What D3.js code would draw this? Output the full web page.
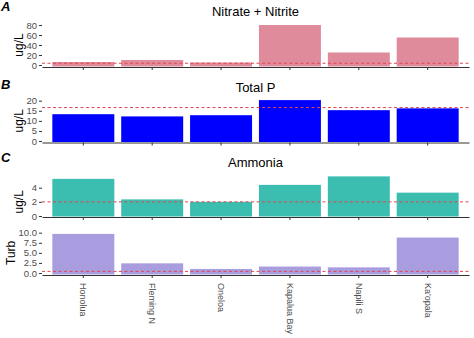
<!DOCTYPE html>
<html>
<head>
<meta charset="utf-8">
<script src="https://cdn.jsdelivr.net/npm/d3@7"></script>
<style>
  body { margin: 0; background: #fff; }
  svg { display: block; font-family: "Liberation Sans", Arial, sans-serif; }
</style>
</head>
<body>
<div id="graphic"></div>
<script>
// sites along the x axis
var sites = ["Honolua", "Fleming N", "Oneloa", "Kapalua Bay", "Napili S", "Ka'opala"];

// values per panel
var nitrate = [6, 10, 5, 80, 25, 55];
var totalP = [13.3, 12.2, 12.8, 20.3, 15.3, 16.2];
var ammonia = [5.25, 2.35, 2.0, 4.4, 5.6, 3.3];
var turb = [9.7, 2.4, 1.0, 1.6, 1.4, 8.8];

// reference (dashed) lines
var thresholds = [3.5, 16.6, 2, 0.4];

// tick labels
var nitrateTicks = [0, 20, 40, 60, 80];
var totalPTicks = [0, 5, 10, 15, 20];
var ammoniaTicks = [0, 2, 4];
var turbTicks = [0, 2.5, 5, 7.5, 10];

var W = 474, H = 338;
var svg = d3.select("#graphic").append("svg")
  .attr("width", W).attr("height", H);

var x = d3.scaleBand()
  .domain(sites)
  .range([42, 469])
  .paddingInner(0.1)
  .paddingOuter(0.15);

var panels = [
  {vals: nitrate, ticks: nitrateTicks, fmt: d3.format("d"), color: "#e08b9b",
   dom: [0, 80], rng: [65, 25], axisY: 67, title: "Nitrate + Nitrite", titleY: 16,
   letter: "A", letterY: 11, ylab: "ug/L", labX: 19, thr: thresholds[0]},
  {vals: totalP, ticks: totalPTicks, fmt: d3.format("d"), color: "#0000ff",
   dom: [0, 20], rng: [141, 100.7], axisY: 142.5, title: "Total P", titleY: 92,
   letter: "B", letterY: 89, ylab: "ug/L", labX: 19, thr: thresholds[1]},
  {vals: ammonia, ticks: ammoniaTicks, fmt: d3.format("d"), color: "#3bbeb0",
   dom: [0, 4], rng: [216, 187.7], axisY: 217, title: "Ammonia", titleY: 167,
   letter: "C", letterY: 162, ylab: "ug/L", labX: 19, thr: thresholds[2]},
  {vals: turb, ticks: turbTicks, fmt: d3.format(".1f"), color: "#a99de0",
   dom: [0, 10], rng: [273, 232.7], axisY: 275, title: null,
   letter: null, ylab: "Turb", labX: 11, thr: thresholds[3]}
];

panels.forEach(function(p, pi) {
  var y = d3.scaleLinear().domain(p.dom).range(p.rng);
  var g = svg.append("g");

  g.selectAll("rect")
    .data(p.vals)
  .enter().append("rect")
    .attr("x", function(d, i) { return x(sites[i]); })
    .attr("width", x.bandwidth())
    .attr("y", function(d) { return y(d); })
    .attr("height", function(d) { return p.axisY - 0.5 - y(d); })
    .attr("fill", p.color);

  // y axis: ticks only, no line
  var ya = g.append("g")
    .attr("transform", "translate(42,0)")
    .call(d3.axisLeft(y).tickValues(p.ticks).tickFormat(p.fmt).tickSize(3).tickPadding(2));
  ya.select(".domain").remove();
  ya.selectAll("line").attr("stroke", "#333");
  ya.selectAll("text").attr("fill", "#4d4d4d").style("font-size", "9.5px");

  // x axis
  var xa = g.append("g")
    .attr("transform", "translate(0," + p.axisY + ")")
    .call(d3.axisBottom(x).tickSize(3).tickSizeOuter(0).tickPadding(4));
  xa.select(".domain").attr("stroke", "#333").attr("stroke-width", 1.1);
  xa.selectAll(".tick line").attr("stroke", "#333");
  if (pi < 3) {
    xa.selectAll(".tick text").remove();
  } else {
    xa.selectAll(".tick text")
      .attr("fill", "#4d4d4d")
      .style("font-size", "9px")
      .attr("transform", "rotate(90)")
      .attr("x", 8).attr("y", 0).attr("dy", "0.35em")
      .attr("text-anchor", "start");
  }

  // dashed reference line
  g.append("line")
    .attr("x1", 42).attr("x2", 469)
    .attr("y1", y(p.thr)).attr("y2", y(p.thr))
    .attr("stroke", "#e0474c")
    .attr("stroke-width", 1)
    .attr("stroke-dasharray", "3,2.5");

  if (p.title) {
    g.append("text")
      .attr("x", (x.range()[0] + x.range()[1]) / 2).attr("y", p.titleY)
      .attr("text-anchor", "middle")
      .style("font-size", "13px")
      .text(p.title);
  }
  if (p.letter) {
    g.append("text")
      .attr("x", 1).attr("y", p.letterY)
      .style("font-size", "13px")
      .style("font-weight", "bold")
      .style("font-style", "italic")
      .text(p.letter);
  }
  var midY = (y(p.dom[0]) + y(p.dom[1])) / 2;
  g.append("text")
    .attr("transform", "translate(" + p.labX + "," + midY + ") rotate(-90)")
    .attr("text-anchor", "middle")
    .attr("dy", "0.35em")
    .style("font-size", "12px")
    .text(p.ylab);
});
</script>
</body>
</html>
